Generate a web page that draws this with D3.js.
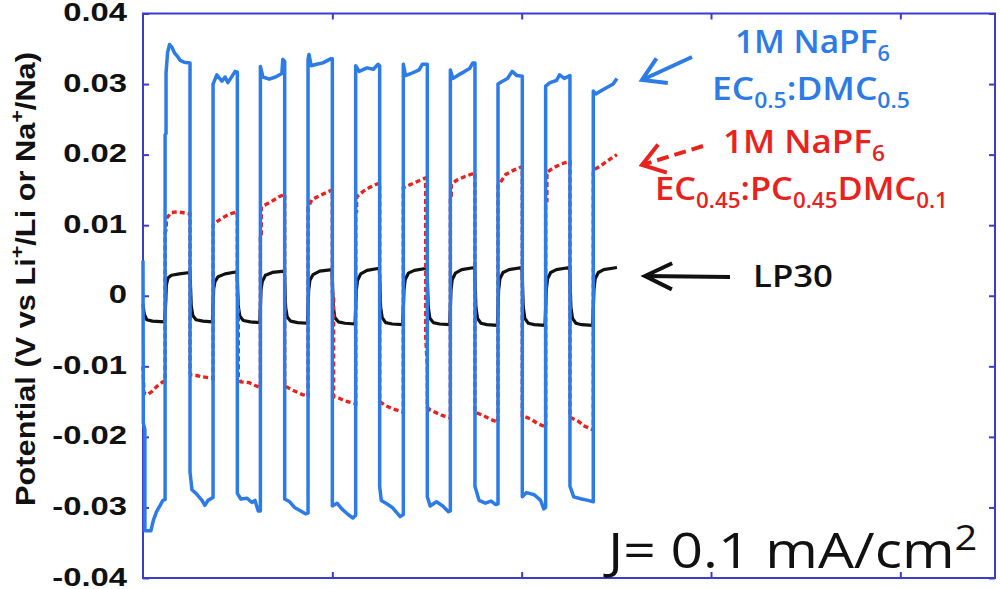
<!DOCTYPE html>
<html>
<head>
<meta charset="utf-8">
<script src="https://cdn.jsdelivr.net/npm/d3@7"></script>
<style>
  body { margin: 0; background: #fff; }
  svg { display: block; }
</style>
</head>
<body>
<div id="chart"></div>
<script>
// time in minutes, potential in V
const ecDmc = [
  [0, 0.0050], [0.1, -0.0180], [0.6, -0.0190], [0.6, -0.0333], [2.5, -0.0333], [3.3, -0.0318], [4.3, -0.0306], [5.3, -0.0298], [6.3, -0.0290], [7.0, -0.0289],
  [7.0, 0.0228], [7.3, 0.0230], [7.3, 0.0316], [7.8, 0.0345], [8.4, 0.0356], [9.2, 0.0352], [10.0, 0.0344], [10.8, 0.0340], [11.7, 0.0334], [13.0, 0.0331], [14.9, 0.0330],
  [14.9, -0.0250], [15.2, -0.0262], [15.5, -0.0275], [16.8, -0.0280], [18.7, -0.0290], [19.6, -0.0297], [20.6, -0.0290], [22.2, -0.0286],
  [22.2, 0.0300], [23.4, 0.0313], [25.0, 0.0304], [26.0, 0.0310], [26.9, 0.0302], [29.2, 0.0318], [29.9, 0.0317],
  [29.9, -0.0280], [31.0, -0.0288], [33.0, -0.0287], [34.5, -0.0293], [35.5, -0.0290], [36.5, -0.0305], [37.2, -0.0305],
  [37.2, 0.0325], [38.0, 0.0310], [40.0, 0.0307], [42.0, 0.0310], [44.0, 0.0315], [44.3, 0.0335], [44.9, 0.0332],
  [44.9, -0.0288], [46.5, -0.0292], [48.0, -0.0300], [50.0, -0.0305], [51.5, -0.0309], [52.3, -0.0308],
  [52.3, 0.0335], [52.6, 0.0342], [53.3, 0.0326], [55.0, 0.0328], [57.0, 0.0330], [59.6, 0.0336], [60.0, 0.0336],
  [60.0, -0.0298], [61.5, -0.0294], [63.0, -0.0302], [65.0, -0.0310], [66.5, -0.0315], [67.4, -0.0311],
  [67.4, 0.0326], [68.5, 0.0318], [71.0, 0.0323], [73.0, 0.0321], [74.5, 0.0328], [75.0, 0.0326],
  [75.0, -0.0270], [75.5, -0.0290], [77.0, -0.0294], [79.0, -0.0300], [81.5, -0.0313], [82.5, -0.0310],
  [82.5, 0.0328], [83.2, 0.0312], [85.0, 0.0315], [87.5, 0.0320], [88.5, 0.0328], [90.1, 0.0328],
  [90.1, -0.0285], [91.0, -0.0298], [93.0, -0.0292], [95.0, -0.0298], [96.8, -0.0306], [97.4, -0.0305],
  [97.4, 0.0320], [98.2, 0.0308], [100.0, 0.0313], [102.0, 0.0318], [103.5, 0.0322], [104.5, 0.0330], [105.2, 0.0330],
  [105.2, -0.0270], [106.5, -0.0290], [108.5, -0.0294], [110.3, -0.0291], [111.8, -0.0296], [112.5, -0.0295],
  [112.5, 0.0300], [113.5, 0.0303], [115.5, 0.0308], [117.0, 0.0318], [118.5, 0.0312], [120.2, 0.0311],
  [120.2, -0.0285], [121.5, -0.0279], [124.0, -0.0282], [126.0, -0.0290], [127.0, -0.0302], [127.6, -0.0300],
  [127.6, 0.0297], [129.0, 0.0302], [131.0, 0.0305], [132.0, 0.0313], [133.5, 0.0308], [135.3, 0.0312],
  [135.3, -0.0270], [136.5, -0.0285], [139.0, -0.0288], [141.0, -0.0290], [142.7, -0.0292],
  [142.7, 0.0290], [143.5, 0.0286], [145.0, 0.0290], [147.0, 0.0295], [149.0, 0.0300], [150.2, 0.0308]
];

const ecPcDmc = [
  [0, -0.0100], [0.3, -0.0138], [1.5, -0.0140], [3.0, -0.0135], [4.5, -0.0128], [6.3, -0.0122], [7.0, -0.0121],
  [7.0, 0.0090], [7.3, 0.0093], [7.5, 0.0110], [9.0, 0.0118], [11.0, 0.0119], [14.9, 0.0116],
  [14.9, -0.0110], [15.2, -0.0112], [17.0, -0.0113], [19.0, -0.0115], [22.2, -0.0117],
  [22.2, 0.0100], [22.5, 0.0102], [25.0, 0.0110], [27.0, 0.0115], [29.9, 0.0119],
  [29.9, 0.0000], [30.2, -0.0005], [30.2, -0.0115], [31.0, -0.0122], [33.5, -0.0123], [36.5, -0.0129], [37.2, -0.0130],
  [37.2, 0.0085], [37.5, 0.0085], [37.5, 0.0126], [40.5, 0.0133], [43.0, 0.0140], [44.9, 0.0144],
  [44.9, -0.0128], [48.0, -0.0135], [50.5, -0.0140], [52.3, -0.0142],
  [52.3, 0.0125], [53.5, 0.0136], [56.0, 0.0142], [60.0, 0.0150],
  [60.0, 0.0005], [60.4, 0.0000], [60.4, -0.0143], [62.0, -0.0145], [64.0, -0.0149], [67.4, -0.0153],
  [67.4, 0.0120], [67.7, 0.0120], [67.7, 0.0140], [69.8, 0.0148], [72.0, 0.0154], [75.0, 0.0160],
  [75.0, -0.0150], [77.0, -0.0156], [79.0, -0.0160], [82.5, -0.0165],
  [82.5, 0.0153], [85.0, 0.0158], [87.5, 0.0163], [89.6, 0.0167],
  [89.6, -0.0060], [90.1, -0.0100], [90.1, -0.0158], [91.0, -0.0162], [93.0, -0.0166], [95.0, -0.0170], [97.4, -0.0173],
  [97.4, 0.0138], [97.7, 0.0138], [97.7, 0.0158], [99.5, 0.0164], [102.0, 0.0169], [105.2, 0.0174],
  [105.2, -0.0165], [108.0, -0.0170], [110.0, -0.0175], [112.5, -0.0179],
  [112.5, 0.0156], [115.0, 0.0172], [117.5, 0.0178], [120.2, 0.0183],
  [120.2, -0.0170], [123.0, -0.0175], [125.0, -0.0181], [127.6, -0.0186],
  [127.6, 0.0135], [128.0, 0.0135], [128.0, 0.0175], [130.0, 0.0181], [132.5, 0.0187], [135.3, 0.0190],
  [135.3, -0.0172], [138.0, -0.0178], [140.0, -0.0185], [142.7, -0.0190],
  [142.7, 0.0178], [145.0, 0.0184], [147.5, 0.0192], [150.2, 0.0200]
];

const lp30 = [
  [0, -0.0012], [0.4, -0.0026], [1.2, -0.0034], [3.0, -0.0036], [6.8, -0.0037],
  [7.2, -0.0010], [7.4, 0.0015], [7.9, 0.0025], [9.0, 0.0029], [11.5, 0.0031], [14.9, 0.0033],
  [15.3, -0.0015], [15.8, -0.0028], [16.8, -0.0034], [19.0, -0.0036], [22.0, -0.0037],
  [22.4, 0.0010], [22.8, 0.0020], [23.8, 0.0027], [26.0, 0.0031], [29.8, 0.0034],
  [30.2, -0.0015], [30.7, -0.0029], [31.8, -0.0035], [34.0, -0.0037], [37.0, -0.0038],
  [37.4, 0.0008], [37.8, 0.0020], [38.8, 0.0029], [41.0, 0.0033], [44.8, 0.0035],
  [45.2, -0.0016], [45.7, -0.0030], [46.8, -0.0036], [49.0, -0.0038], [52.1, -0.0039],
  [52.5, 0.0008], [52.9, 0.0022], [53.9, 0.0030], [56.0, 0.0035], [59.9, 0.0037],
  [60.3, -0.0016], [60.8, -0.0031], [61.9, -0.0037], [64.0, -0.0039], [67.2, -0.0040],
  [67.6, 0.0008], [68.0, 0.0022], [69.0, 0.0031], [71.0, 0.0036], [74.9, 0.0039],
  [75.3, -0.0016], [75.8, -0.0031], [76.9, -0.0038], [79.0, -0.0040], [82.3, -0.0041],
  [82.7, 0.0008], [83.1, 0.0023], [84.1, 0.0032], [86.0, 0.0036], [90.0, 0.0039],
  [90.4, -0.0016], [90.9, -0.0032], [92.0, -0.0038], [94.0, -0.0040], [97.2, -0.0041],
  [97.6, 0.0008], [98.0, 0.0023], [99.0, 0.0032], [101.0, 0.0037], [105.1, 0.0040],
  [105.5, -0.0016], [106.0, -0.0032], [107.1, -0.0039], [109.0, -0.0041], [112.3, -0.0042],
  [112.7, 0.0008], [113.1, 0.0024], [114.1, 0.0033], [116.0, 0.0037], [120.1, 0.0040],
  [120.5, -0.0016], [121.0, -0.0032], [122.1, -0.0039], [124.0, -0.0041], [127.4, -0.0042],
  [127.8, 0.0008], [128.2, 0.0024], [129.2, 0.0033], [131.0, 0.0037], [135.2, 0.0040],
  [135.6, -0.0016], [136.1, -0.0032], [137.2, -0.0039], [139.0, -0.0041], [142.5, -0.0042],
  [142.9, 0.0008], [143.3, 0.0024], [144.3, 0.0033], [146.0, 0.0037], [150.2, 0.0040]
];

const xTicks = [60, 120, 180, 240];
const yTicks = [-0.04, -0.03, -0.02, -0.01, 0, 0.01, 0.02, 0.03, 0.04];

const width = 1000;
const height = 589;
const axisColor = '#3c3ccc';
const blue = '#2d7be6';
const red = '#e8231d';

const svg = d3.select('#chart')
    .append('svg')
    .attr('width', width)
    .attr('height', height);

// Scales
const x = d3.scaleLinear().domain([0, 270]).range([143, 995]);
const y = d3.scaleLinear().domain([-0.04, 0.04]).range([578, 13.5]);

// inward ticks on all four sides
const tickAxis = (g, axis) => {
    g.call(axis);
    g.select('.domain').remove();
    g.selectAll('.tick line').attr('stroke', axisColor).attr('stroke-width', 2);
    g.selectAll('.tick text').remove();
};
svg.append('g').attr('transform', `translate(${x.range()[0]},0)`)
    .call(g => tickAxis(g, d3.axisLeft(y).tickValues(yTicks).tickSize(-6)));
svg.append('g').attr('transform', `translate(${x.range()[1]},0)`)
    .call(g => tickAxis(g, d3.axisRight(y).tickValues(yTicks).tickSize(-6)));
svg.append('g').attr('transform', `translate(0,${y.range()[0]})`)
    .call(g => tickAxis(g, d3.axisBottom(x).tickValues(xTicks).tickSize(-6)));
svg.append('g').attr('transform', `translate(0,${y.range()[1]})`)
    .call(g => tickAxis(g, d3.axisTop(x).tickValues(xTicks).tickSize(-6)));

svg.append('rect')
    .attr('x', x.range()[0])
    .attr('y', y.range()[1])
    .attr('width', x.range()[1] - x.range()[0])
    .attr('height', y.range()[0] - y.range()[1])
    .attr('fill', 'none')
    .attr('stroke', axisColor)
    .attr('stroke-width', 2);

// Lines
const line = d3.line().x(d => x(d[0])).y(d => y(d[1]));

svg.append('path').datum(lp30)
    .attr('d', line).attr('fill', 'none')
    .attr('stroke', '#111').attr('stroke-width', 3.2).attr('stroke-linejoin', 'round');

svg.append('path').datum(ecPcDmc)
    .attr('d', line).attr('fill', 'none')
    .attr('stroke', red).attr('stroke-width', 3.4)
    .attr('stroke-dasharray', '5,3');

svg.append('path').datum(ecDmc)
    .attr('d', line).attr('fill', 'none')
    .attr('stroke', blue).attr('stroke-width', 3.5).attr('stroke-linejoin', 'round');

// Y tick labels (bold, slightly wide)
const tickFmt = d => d === 0 ? '0' : d3.format('.2f')(d).replace('\u2212', '-');
const probe = svg.append('text').attr('font-family', 'Liberation Sans, Arial, sans-serif')
    .attr('font-weight', 'bold').attr('font-size', 25).text('0.04');
const labelScale = 64 / probe.node().getBBox().width;
probe.remove();

svg.selectAll('.ylab')
    .data(yTicks)
    .enter()
    .append('text')
    .attr('class', 'ylab')
    .attr('transform', d => `translate(127,${y(d) + 7.5}) scale(${labelScale},1)`)
    .attr('text-anchor', 'end')
    .attr('font-family', 'Liberation Sans, Arial, sans-serif')
    .attr('font-weight', 'bold')
    .attr('font-size', 25)
    .attr('fill', '#111')
    .text(tickFmt);

// rich text: parts are [string, kind], kind '', 'sub' or 'sup'
function richText(parts, opts) {
    const g = svg.append('g');
    const t = g.append('text')
        .attr('font-family', opts.font)
        .attr('font-weight', opts.weight || 'normal')
        .attr('font-size', opts.size)
        .attr('fill', opts.color)
        .attr('text-anchor', opts.anchor || 'start');
    let shift = 0;
    parts.forEach(([s, kind]) => {
        const want = kind === 'sub' ? opts.subDy : kind === 'sup' ? -opts.supDy : 0;
        t.append('tspan')
            .attr('dy', want - shift)
            .attr('font-size', kind ? opts.size * (opts.small || 0.65) : opts.size)
            .text(s);
        shift = want;
    });
    const w = t.node().getBBox().width;
    const sx = opts.width ? opts.width / w : 1;
    g.attr('transform', `translate(${opts.x},${opts.y}) ${opts.rotate ? 'rotate(-90)' : ''} scale(${sx},${opts.sy || 1})`);
    return g;
}

// Y title
richText([['Potential (V vs Li', ''], ['+', 'sup'], ['/Li or Na', ''], ['+', 'sup'], ['/Na)', '']], {
    x: 35, y: 279, rotate: true, anchor: 'middle', width: 454, sy: 1.3,
    font: 'Liberation Sans, Arial, sans-serif', weight: 'bold', size: 21, color: '#111',
    supDy: 9, subDy: 0, small: 0.7
});

const annoFont = 'Open Sans, sans-serif';

richText([['1M NaPF', ''], ['6', 'sub']], {
    x: 735, y: 53, width: 155, font: annoFont, weight: 600, size: 32, color: blue, subDy: 8
});
richText([['EC', ''], ['0.5', 'sub'], [':DMC', ''], ['0.5', 'sub']], {
    x: 712, y: 100, width: 198, font: annoFont, weight: 600, size: 32, color: blue, subDy: 8
});
richText([['1M NaPF', ''], ['6', 'sub']], {
    x: 723, y: 153, width: 162, font: annoFont, weight: 600, size: 32, color: red, subDy: 8
});
richText([['EC', ''], ['0.45', 'sub'], [':PC', ''], ['0.45', 'sub'], ['DMC', ''], ['0.1', 'sub']], {
    x: 655, y: 200, width: 293, font: annoFont, weight: 600, size: 32, color: red, subDy: 8
});
richText([['LP30', '']], {
    x: 753, y: 287, width: 80, font: annoFont, weight: 600, size: 31, color: '#111'
});
richText([['J= 0.1 mA/cm', ''], ['2', 'sup']], {
    x: 608, y: 568, width: 374, font: annoFont, size: 50, color: '#111', supDy: 18, small: 0.7
});

// Arrows
function arrow(x1, y1, x2, y2, color, len, ang, dash) {
    const a = Math.atan2(y1 - y2, x1 - x2);
    svg.append('line')
        .attr('x1', x1).attr('y1', y1).attr('x2', x2).attr('y2', y2)
        .attr('stroke', color).attr('stroke-width', 4)
        .attr('stroke-dasharray', dash || null);
    const w1 = [x2 + len * Math.cos(a - ang), y2 + len * Math.sin(a - ang)];
    const w2 = [x2 + len * Math.cos(a + ang), y2 + len * Math.sin(a + ang)];
    svg.append('path')
        .attr('d', `M${w1[0]},${w1[1]}L${x2},${y2}L${w2[0]},${w2[1]}`)
        .attr('fill', 'none').attr('stroke', color).attr('stroke-width', 4)
        .attr('stroke-linejoin', 'miter');
}
arrow(692, 57, 642, 80, blue, 26, 0.55);
arrow(703, 146, 642, 165, red, 26, 0.6, '12,6');
arrow(730, 277, 645, 276, '#111', 30, 0.45);
</script>
</body>
</html>
